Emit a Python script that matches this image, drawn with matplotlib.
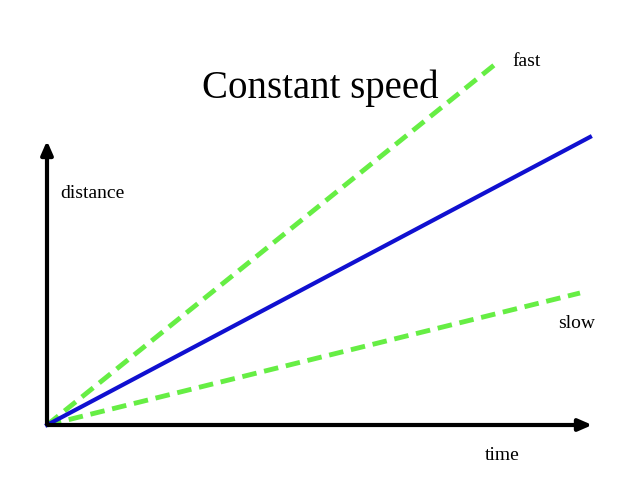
import matplotlib
matplotlib.use("Agg")
import matplotlib.pyplot as plt

# data (time, distance) relative to origin
time_pts = [0, 543]
medium = [0, 288]
fast_t = [0, 451]
fast_d = [0, 363]
slow_t = [0, 533]
slow_d = [0, 132]

fig = plt.figure(figsize=(6.38, 4.79), dpi=100)
ax = fig.add_axes([0, 0, 1, 1])
ax.set_xlim(-47, 591)
ax.set_ylim(-54, 425)
ax.axis("off")

ax.plot(fast_t, fast_d, color="#66ee44", lw=3.5, ls=(0, (3, 1.6)))
ax.plot(slow_t, slow_d, color="#66ee44", lw=3.5, ls=(0, (3, 1.6)))
ax.plot(time_pts, medium, color="#1010d0", lw=3)

ax.annotate("", xy=(548, 0), xytext=(-2, 0),
            arrowprops=dict(arrowstyle="-|>,head_length=0.8,head_width=0.35", color="black", lw=3))
ax.annotate("", xy=(0, 287), xytext=(0, -2),
            arrowprops=dict(arrowstyle="-|>,head_length=0.8,head_width=0.35", color="black", lw=3))

serif = "Liberation Serif"
ax.text(273, 337, "Constant speed", fontsize=28, family=serif, ha="center", va="center")
ax.text(13, 232, "distance", fontsize=14, family=serif, ha="left", va="center")
ax.text(438, -30, "time", fontsize=14, family=serif, ha="left", va="center")
ax.text(465, 364, "fast", fontsize=14, family=serif, ha="left", va="center")
ax.text(511, 102, "slow", fontsize=14, family=serif, ha="left", va="center")

fig.savefig("out.png", dpi=100)
